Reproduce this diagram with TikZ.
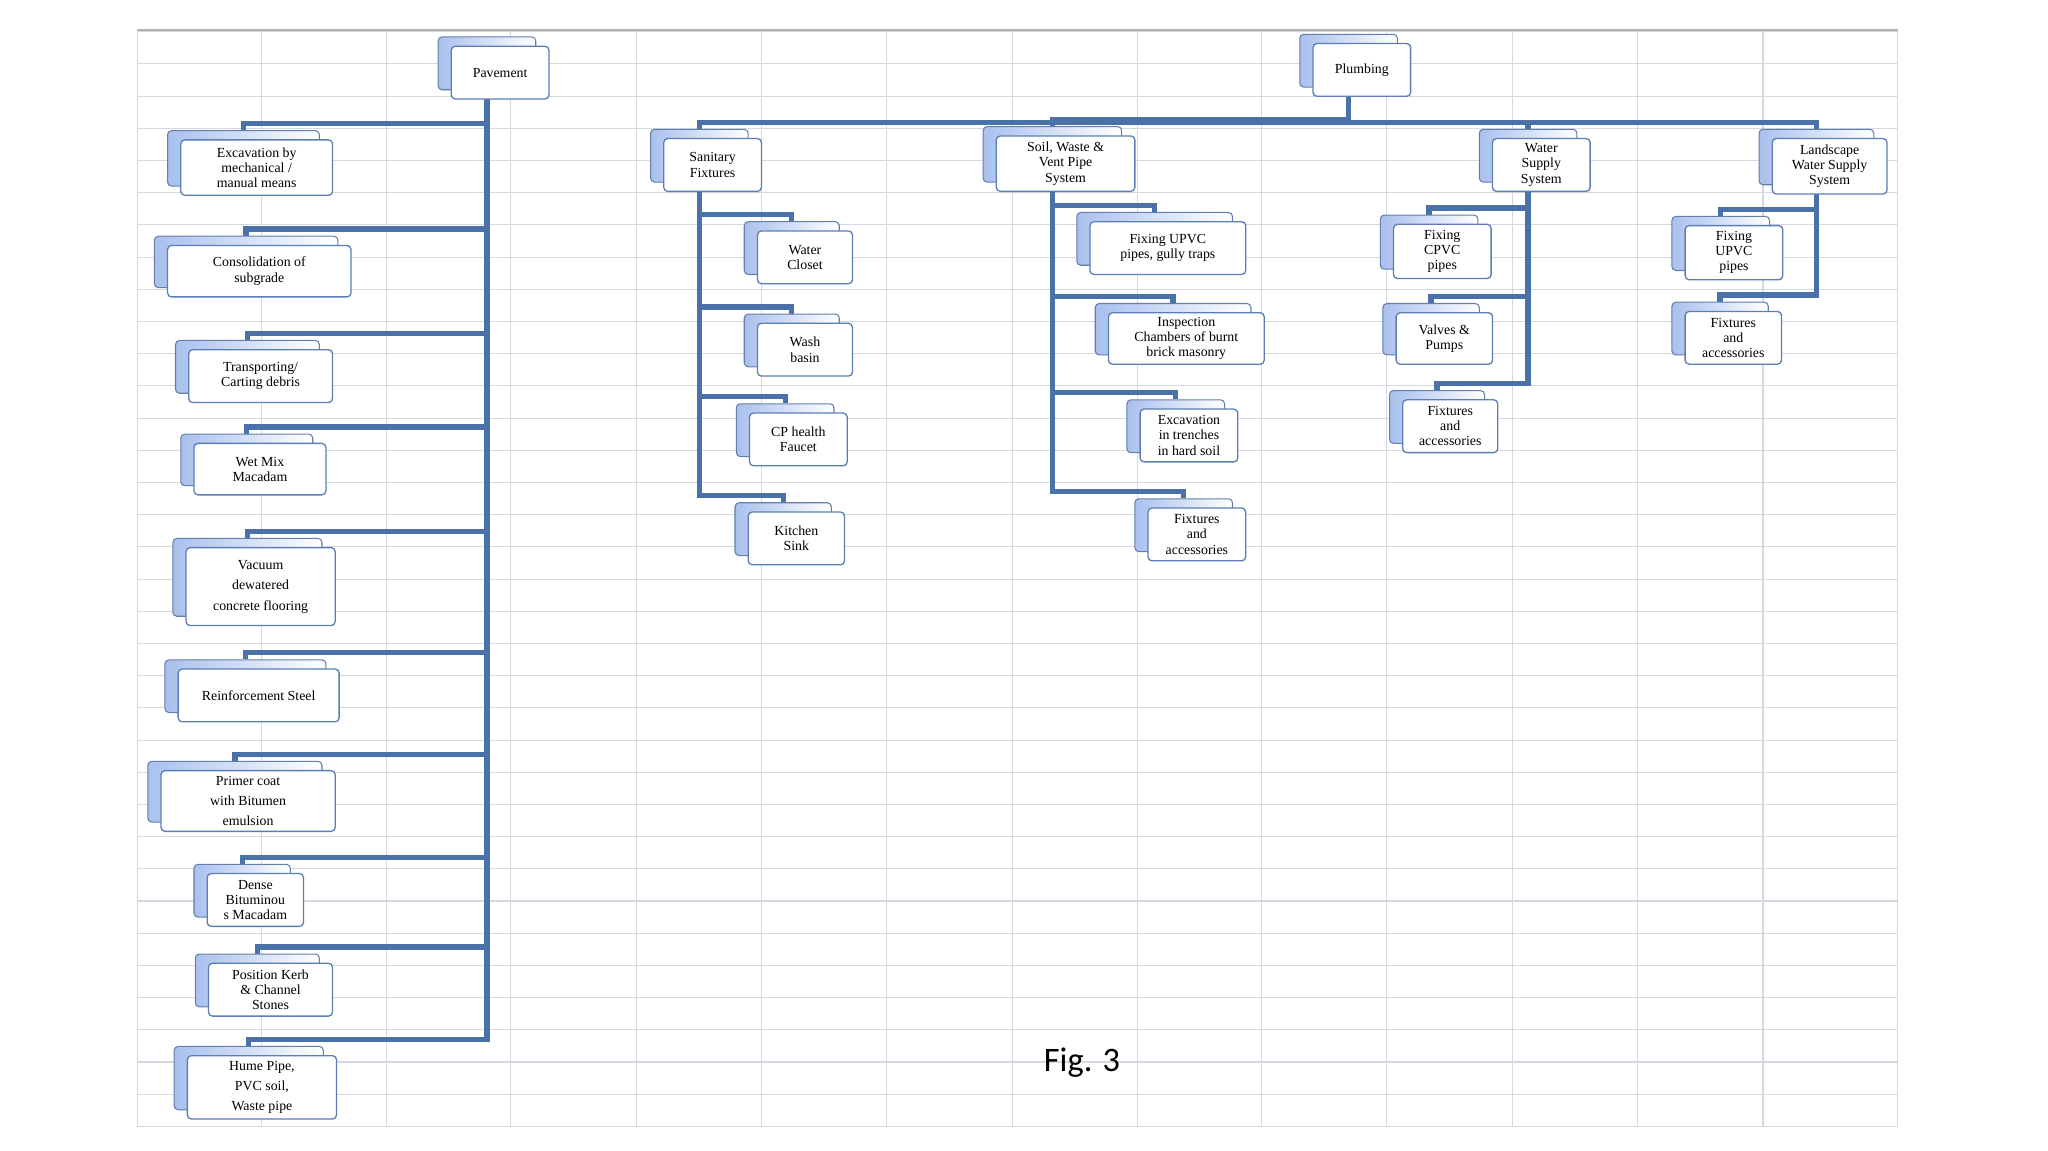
\documentclass[tikz,border=0pt]{standalone}
\usepackage{fontspec}
\setmainfont{Liberation Serif}
\newfontfamily\figfont{Carlito}
\usetikzlibrary{calc,backgrounds}
\definecolor{conn}{HTML}{4A72A8}
\definecolor{bord}{HTML}{5B7FB5}
\definecolor{lb}{HTML}{A9C0EE}
\definecolor{grid}{HTML}{D4D8E0}
\tikzset{
 conn/.style={draw=conn,line width=4pt},
 back/.style={draw=bord!80!gray,line width=0.8pt,rounded corners=3pt,left color=lb,right color=white,inner sep=0pt},
 front/.style={draw=bord,line width=1pt,rounded corners=3pt,fill=white,inner sep=1pt,align=center,font=\fontsize{10.5}{11.5}\selectfont},
}
\newcommand\bx[6]{%
 \node[back,minimum width={(#4-#2)*1pt},minimum height={(#5-#3)*1pt}] (#1b) at ({(#2+#4)/2-10},{(#3+#5)/2-7}) {};
 \node[front,minimum width={(#4-#2)*1pt},minimum height={(#5-#3)*1pt}] (#1) at ({(#2+#4)/2},{(#3+#5)/2}) {#6};}
\newcommand\cn[2]{\draw[conn] (#1b.south) |- ($(#2b.north)+(0,-5)$) -- (#2b.north);}
\begin{document}
\begin{tikzpicture}[x=1pt,y=-1pt]
\useasboundingbox (0,0) rectangle (1552,872);
\bx{pav}{342}{35}{416}{75}{Pavement}
\bx{a1}{137}{106}{252}{148}{Excavation by\\mechanical /\\manual means}
\bx{a2}{127}{186}{266}{225}{Consolidation of\\subgrade}
\bx{a3}{143}{265}{252}{305}{Transporting/\\Carting debris}
\bx{a4}{147}{336}{247}{375}{Wet Mix\\Macadam}
\bx{a5}{141}{415}{254}{474}{Vacuum\\[4pt] dewatered\\[4pt] concrete flooring}
\bx{a6}{135}{507}{257}{547}{Reinforcement Steel}
\bx{a7}{122}{584}{254}{630}{Primer coat\\[4pt] with Bitumen\\[4pt] emulsion}
\bx{a8}{157}{662}{230}{702}{Dense\\Bituminou\\s Macadam}
\bx{a9}{158}{730}{252}{770}{Position Kerb\\\& Channel\\Stones}
\bx{a10}{142}{800}{255}{848}{Hume Pipe,\\[4pt] PVC soil,\\[4pt] Waste pipe}
\bx{plu}{995}{33}{1069}{73}{Plumbing}
\bx{s}{503}{105}{577}{145}{Sanitary\\Fixtures}
\bx{s1}{574}{175}{646}{215}{Water\\Closet}
\bx{s2}{574}{245}{646}{285}{Wash\\basin}
\bx{s3}{568}{313}{642}{353}{CP health\\Faucet}
\bx{s4}{567}{388}{640}{428}{Kitchen\\Sink}
\bx{w}{755}{103}{860}{145}{Soil, Waste \&\\Vent Pipe\\System}
\bx{w1}{826}{168}{944}{208}{Fixing UPVC\\pipes, gully traps}
\bx{w2}{840}{237}{958}{276}{Inspection\\Chambers of burnt\\brick masonry}
\bx{w3}{864}{310}{938}{350}{Excavation\\in trenches\\in hard soil}
\bx{w4}{870}{385}{944}{425}{Fixtures\\and\\accessories}
\bx{ws}{1131}{105}{1205}{145}{Water\\Supply\\System}
\bx{ws1}{1056}{170}{1130}{211}{Fixing\\CPVC\\pipes}
\bx{ws2}{1058}{237}{1131}{276}{Valves \&\\Pumps}
\bx{ws3}{1063}{303}{1135}{343}{Fixtures\\and\\accessories}
\bx{l}{1343}{105}{1430}{147}{Landscape\\Water Supply\\System}
\bx{l1}{1277}{171}{1351}{212}{Fixing\\UPVC\\pipes}
\bx{l2}{1277}{236}{1350}{276}{Fixtures\\and\\accessories}
\node[font=\figfont\fontsize{26}{30}\selectfont] (fig) at (820,805) {Fig. 3};
\begin{pgfonlayer}{background}
\foreach \i in {0,...,34} \draw[grid,line width=0.8pt] (104,{24+\i*24.4}) -- (1438,{24+\i*24.4});
\foreach \x in {104,198,293,387,482,577,672,767,862,956,1051,1146,1241,1336,1438} \draw[grid,line width=0.8pt] (\x,24) -- (\x,853);
\draw[gray!60,line width=1.5pt] (104,23) -- (1438,23);
\foreach \c in {a1,a2,a3,a4,a5,a6,a7,a8,a9,a10} {\cn{pav}{\c}}
\foreach \c in {s,w,ws,l} {\cn{plu}{\c}}
\foreach \c in {s1,s2,s3,s4} {\cn{s}{\c}}
\foreach \c in {w1,w2,w3,w4} {\cn{w}{\c}}
\foreach \c in {ws1,ws2,ws3} {\cn{ws}{\c}}
\foreach \c in {l1,l2} {\cn{l}{\c}}
\end{pgfonlayer}
\end{tikzpicture}
\end{document}
